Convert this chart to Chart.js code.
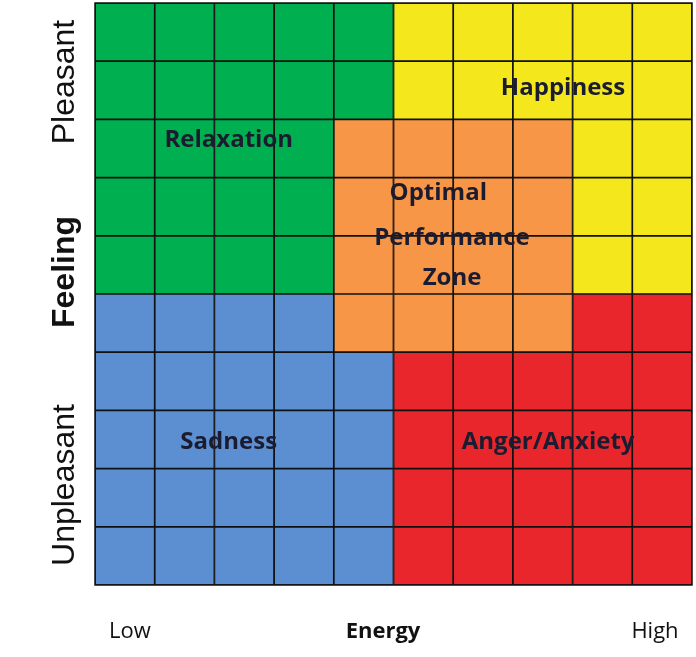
<!DOCTYPE html>
<html><head><meta charset="utf-8">
<script src="https://cdn.jsdelivr.net/npm/chart.js@4"></script>
<style>html,body{margin:0;padding:0;background:#fff}#w{width:696px;height:657px}</style>
</head><body><div id="w"><canvas id="c"></canvas></div>
<script>
const columns = ['1','2','3','4','5','6','7','8','9','10'];
// zone code per row (top to bottom), per column
const rowZones = [
  'GGGGGYYYYY','GGGGGYYYYY','GGGGOOOOYY','GGGGOOOOYY','GGGGOOOOYY',
  'BBBBOOOORR','BBBBBRRRRR','BBBBBRRRRR','BBBBBRRRRR','BBBBBRRRRR'
];
const zoneColors = {G:'#00b050',Y:'#f4e71b',O:'#f79646',B:'#5b8fd2',R:'#e8262b'};
const regionLabels = [
  {text:'Relaxation',x:2.24,y:7.65},
  {text:'Happiness',x:7.84,y:8.54},
  {text:'Optimal',x:5.75,y:6.74},
  {text:'Performance',x:5.98,y:5.96},
  {text:'Zone',x:5.98,y:5.27},
  {text:'Sadness',x:2.24,y:2.46},
  {text:'Anger/Anxiety',x:7.59,y:2.46}
];
const energyLabels = ['Low','Energy','High'];
const feelingLabels = ['Unpleasant','Feeling','Pleasant'];

// bottom row first for stacking
const datasets = [];
for (let r = 9; r >= 0; r--) {
  datasets.push({
    data: columns.map(()=>1),
    backgroundColor: rowZones[r].split('').map(z=>zoneColors[z]),
    borderColor:'#111', borderWidth:1.2, borderSkipped:false,
    barPercentage:1, categoryPercentage:1
  });
}
const textPlugin = {
  id:'txt',
  afterDatasetsDraw(chart){
    const ctx = chart.ctx, a = chart.chartArea, ys = chart.scales.y;
    ctx.save();
    // grid outline
    ctx.strokeStyle='#111'; ctx.lineWidth=1.5; ctx.strokeRect(a.left,a.top,a.right-a.left,a.bottom-a.top);
    ctx.fillStyle='#1c1c30'; ctx.textAlign='center'; ctx.textBaseline='middle';
    ctx.font='bold 24px "Open Sans", sans-serif';
    regionLabels.forEach(l=>{
      const px = a.left + l.x/10*(a.right-a.left);
      ctx.fillText(l.text, px, ys.getPixelForValue(l.y));
    });
    ctx.fillStyle='#111';
    ctx.font='22px "Open Sans", sans-serif';
    ctx.fillText(energyLabels[0],130,632);
    ctx.fillText(energyLabels[2],655,632);
    ctx.font='bold 22px "Open Sans", sans-serif';
    ctx.fillText(energyLabels[1],383,632);
    ctx.save();
    ctx.translate(65,0); ctx.rotate(-Math.PI/2);
    ctx.font='32px "Liberation Sans", Arial, sans-serif';
    ctx.fillText(feelingLabels[0],-485,0);
    ctx.fillText(feelingLabels[2],-82,0);
    ctx.font='bold 32px "Liberation Sans", Arial, sans-serif';
    ctx.fillText(feelingLabels[1],-272,0);
    ctx.restore();
    ctx.restore();
  }
};
new Chart(document.getElementById('c'),{
  type:'bar',
  data:{labels:columns,datasets},
  options:{
    responsive:true,maintainAspectRatio:false,animation:false,
    layout:{padding:{left:95,top:3,right:4,bottom:72}},
    plugins:{legend:{display:false},tooltip:{enabled:false}},
    scales:{
      x:{stacked:true,display:false},
      y:{stacked:true,display:false,min:0,max:10}
    }
  },
  plugins:[textPlugin]
});
</script></body></html>
